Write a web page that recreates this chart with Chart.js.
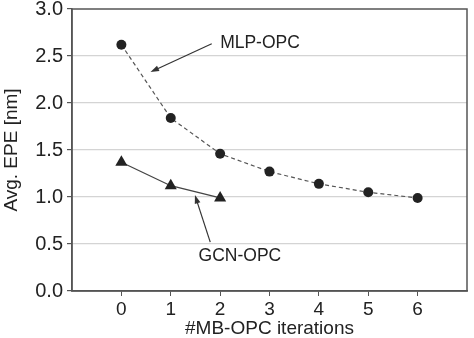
<!DOCTYPE html>
<html>
<head>
<meta charset="utf-8">
<script src="https://cdn.jsdelivr.net/npm/chart.js@4"></script>
<style>
  html, body { margin: 0; padding: 0; background: #fff; }
  #wrap { width: 474px; height: 338px; }
</style>
</head>
<body>
<div id="wrap"><canvas id="epeChart" width="474" height="338"></canvas></div>
<script>
// values
const iterations = [0, 1, 2, 3, 4, 5, 6];
const mlpOpc = [2.62, 1.84, 1.46, 1.27, 1.14, 1.05, 0.99];
const gcnIterations = [0, 1, 2];
const gcnOpc = [1.37, 1.12, 0.99];
const xTicks = [0, 1, 2, 3, 4, 5, 6];

const FONT = "'Liberation Sans', Arial, Helvetica, sans-serif";

// callout labels with arrows, in data units
const callouts = [
  { text: 'MLP-OPC', tx: 2.0, ty: 2.64, align: 'left', from: [1.83, 2.63], to: [0.59, 2.33] },
  { text: 'GCN-OPC', tx: 2.4, ty: 0.37, align: 'center', from: [1.80, 0.52], to: [1.49, 1.02] }
];

const frameAndCallouts = {
  id: 'frameAndCallouts',
  afterDraw(chart) {
    const { ctx, chartArea: a, scales: { x, y } } = chart;
    ctx.save();
    ctx.strokeStyle = '#555';
    ctx.lineWidth = 1.5;
    ctx.strokeRect(a.left, a.top, a.right - a.left, a.bottom - a.top);

    callouts.forEach(c => {
      const x1 = x.getPixelForValue(c.from[0]), y1 = y.getPixelForValue(c.from[1]);
      const x2 = x.getPixelForValue(c.to[0]), y2 = y.getPixelForValue(c.to[1]);
      const ang = Math.atan2(y2 - y1, x2 - x1);
      ctx.strokeStyle = '#333';
      ctx.fillStyle = '#333';
      ctx.lineWidth = 1.2;
      ctx.beginPath();
      ctx.moveTo(x1, y1);
      ctx.lineTo(x2 - 6 * Math.cos(ang), y2 - 6 * Math.sin(ang));
      ctx.stroke();
      ctx.beginPath();
      ctx.moveTo(x2, y2);
      ctx.lineTo(x2 - 9 * Math.cos(ang - 0.33), y2 - 9 * Math.sin(ang - 0.33));
      ctx.lineTo(x2 - 9 * Math.cos(ang + 0.33), y2 - 9 * Math.sin(ang + 0.33));
      ctx.closePath();
      ctx.fill();

      ctx.fillStyle = '#222';
      ctx.font = '17.5px ' + FONT;
      ctx.textAlign = c.align;
      ctx.textBaseline = 'middle';
      ctx.fillText(c.text, x.getPixelForValue(c.tx), y.getPixelForValue(c.ty));
    });
    ctx.restore();
  }
};

const ctx = document.getElementById('epeChart').getContext('2d');
const epeChart = new Chart(ctx, {
  type: 'scatter',
  data: {
    datasets: [{
      label: 'MLP-OPC',
      data: iterations.map((it, i) => ({ x: it, y: mlpOpc[i] })),
      showLine: true,
      borderColor: '#555',
      borderWidth: 1.2,
      borderDash: [4, 3],
      pointStyle: 'circle',
      pointRadius: 5,
      pointBackgroundColor: '#222',
      pointBorderColor: '#222',
      pointBorderWidth: 0
    }, {
      label: 'GCN-OPC',
      data: gcnIterations.map((it, i) => ({ x: it, y: gcnOpc[i] })),
      showLine: true,
      borderColor: '#444',
      borderWidth: 1.3,
      pointStyle: 'triangle',
      pointRadius: 7,
      pointBackgroundColor: '#222',
      pointBorderColor: '#222',
      pointBorderWidth: 0
    }]
  },
  options: {
    responsive: false,
    animation: false,
    layout: { padding: { top: 6, right: 5, left: 0, bottom: 0 } },
    plugins: {
      legend: { display: false },
      tooltip: { enabled: false }
    },
    scales: {
      x: {
        type: 'linear',
        min: -1,
        max: 7,
        afterBuildTicks: scale => {
          scale.ticks = xTicks.map(v => ({ value: v }));
        },
        afterFit: scale => { scale.height = 47; },
        ticks: {
          color: '#222',
          font: { family: FONT, size: 19 },
          padding: 2,
          maxRotation: 0
        },
        grid: { drawOnChartArea: false, drawTicks: true, tickLength: 5, tickColor: '#555' },
        border: { color: '#555', width: 1.5 },
        title: {
          display: true,
          text: '#MB-OPC iterations',
          color: '#222',
          font: { family: FONT, size: 19 },
          padding: { top: 0, bottom: -2 }
        }
      },
      y: {
        min: 0,
        max: 3,
        afterFit: scale => { scale.width = 72; },
        ticks: {
          stepSize: 0.5,
          color: '#222',
          font: { family: FONT, size: 20, lineHeight: 0.5 },
          padding: 4,
          callback: v => v.toFixed(1)
        },
        grid: {
          color: c => (c.tick.value > 0 && c.tick.value < 3) ? '#d4d4d4' : 'rgba(0,0,0,0)',
          lineWidth: 1.2,
          tickLength: 5,
          tickColor: '#555'
        },
        border: { color: '#555', width: 1.5 },
        title: {
          display: true,
          text: 'Avg. EPE [nm]',
          color: '#222',
          font: { family: FONT, size: 19 },
          padding: { top: 0, bottom: 0 }
        }
      }
    }
  },
  plugins: [frameAndCallouts]
});
</script>
</body>
</html>
